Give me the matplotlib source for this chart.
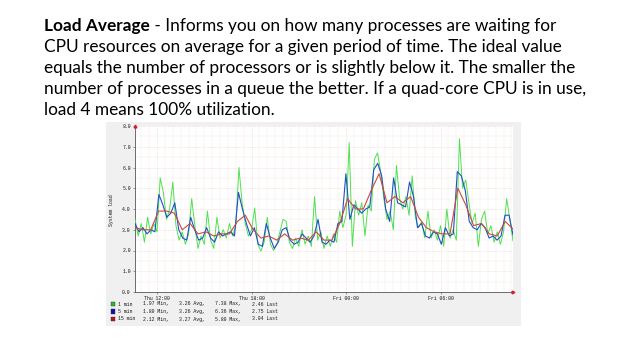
import numpy as np
import matplotlib.pyplot as plt
from matplotlib.patches import Rectangle
from matplotlib.ticker import MultipleLocator

# --- Dados ---------------------------------------------------------------

# janela de 24 h (horas contadas desde Thu 00:00)
t_start, t_end = 10.6, 34.6

load_1min = [3.5, 2.7, 3.3, 2.4, 3.6, 2.8, 3.3, 2.9, 5.5, 4.8,
             3.5, 4.0, 5.3, 3.2, 2.5, 2.9, 2.3, 2.8, 4.5, 3.2,
             2.1, 2.7, 2.3, 3.9, 2.5, 2.1, 3.6, 2.6, 3.0, 2.6,
             3.3, 2.7, 3.2, 6.0, 4.3, 3.3, 2.7, 3.0, 4.05, 2.3,
             1.97, 2.4, 3.6, 2.3, 2.0, 2.3, 2.9, 3.5, 3.4, 2.4,
             2.1, 2.6, 2.2, 3.0, 2.3, 2.7, 2.2, 4.6, 2.5, 2.9,
             2.1, 2.7, 2.2, 2.8, 2.4, 3.9, 3.1, 3.7, 7.2, 2.2,
             4.4, 3.7, 4.3, 2.7, 4.2, 3.9, 6.4, 6.7, 5.8, 4.5,
             3.5, 3.9, 3.0, 6.1, 4.5, 4.0, 4.6, 3.7, 5.6, 3.6,
             3.1, 3.4, 2.6, 3.9, 2.6, 3.0, 2.5, 3.2, 2.2, 4.0,
             2.6, 3.0, 2.5, 7.38, 5.0, 5.4, 4.3, 3.3, 3.8, 2.2,
             3.5, 3.9, 2.8, 3.2, 2.4, 2.9, 2.3, 2.9, 4.5, 3.5,
             2.46]

load_5min = [3.3, 2.9, 3.1, 2.8, 3.0, 2.9, 4.7, 4.2, 3.6, 3.8,
             4.3, 3.0, 2.6, 2.5, 3.6, 3.0, 2.5, 2.6, 3.1, 2.6,
             2.4, 2.9, 2.7, 2.8, 2.9, 2.7, 4.8, 4.0, 3.3, 2.7,
             3.1, 2.3, 2.2, 3.3, 2.6, 2.1, 2.4, 3.0, 3.1, 2.5,
             2.3, 2.4, 2.8, 2.6, 2.4, 2.7, 3.5, 2.4, 2.3, 2.5,
             2.4, 3.3, 3.4, 5.7, 3.5, 4.2, 4.0, 3.8, 4.0, 4.1,
             5.9, 6.2, 5.6, 4.0, 3.4, 5.5, 4.3, 4.2, 4.1, 5.3,
             4.6, 3.1, 3.3, 2.7, 2.6, 2.9, 2.8, 2.3, 3.1, 2.7,
             2.8, 5.8, 5.6, 4.9, 3.4, 3.1, 3.0, 3.3, 3.1, 2.6,
             2.7, 2.5, 2.7, 3.7, 3.7, 2.75]

load_15min = [3.1, 3.0, 3.0, 3.9, 3.9, 3.8, 3.0, 3.3, 2.8, 2.9,
              2.7, 2.8, 2.8, 3.4, 3.7, 3.0, 2.6, 2.7, 2.5, 2.8,
              2.5, 2.6, 2.5, 2.9, 2.5, 2.5, 3.3, 4.5, 4.0, 4.0,
              4.9, 5.7, 4.3, 4.6, 4.3, 4.6, 3.6, 3.1, 2.9, 2.8,
              2.8, 5.0, 4.2, 3.2, 3.3, 2.8, 2.7, 3.4, 3.04]

tick_hours = [12, 18, 24, 30]
tick_labels = ["Thu 12:00", "Thu 18:00", "Fri 00:00", "Fri 06:00"]

legend_names = ["1 min", "5 min", "15 min"]
legend_min = ["1.97", "1.80", "2.12"]
legend_avg = ["3.26", "3.26", "3.27"]
legend_max = ["7.38", "6.36", "5.80"]
legend_last = ["2.46", "2.75", "3.04"]

title_bold = "Load Average"
title_lines = [" - Informs you on how many processes are waiting for",
               "CPU resources on average for a given period of time. The ideal value",
               "equals the number of processors or is slightly below it. The smaller the",
               "number of processes in a queue the better. If a quad-core CPU is in use,",
               "load 4 means 100% utilization."]

# --- Figura --------------------------------------------------------------

W, H = 638, 359
fig = plt.figure(figsize=(W / 100, H / 100), dpi=100)
fig.patch.set_facecolor("white")
renderer = fig.canvas.get_renderer()

def fx(px):
    return px / W

def fy(py):
    return 1 - py / H

# texto do slide: ajusta o tamanho para a largura da 4a linha
title_font = "Lato"
probe = fig.text(0, 0, title_lines[3], fontsize=12, family=title_font)
w = probe.get_window_extent(renderer).width
probe.remove()
fs = 12 * 540 / w

x0 = 44
baselines = [31, 52, 73, 94, 115]
tb = fig.text(fx(x0), fy(baselines[0]), title_bold, fontsize=fs,
              family=title_font, weight="bold", va="baseline", color="black")
wb = tb.get_window_extent(renderer).width
fig.text(fx(x0 + wb), fy(baselines[0]), title_lines[0], fontsize=fs,
         family=title_font, va="baseline", color="black")
for line, b in zip(title_lines[1:], baselines[1:]):
    fig.text(fx(x0), fy(b), line, fontsize=fs, family=title_font,
             va="baseline", color="black")

# painel cinza do gráfico rrd
fig.add_artist(Rectangle((fx(106), fy(326)), fx(415), 204 / H,
                         transform=fig.transFigure, facecolor="#f0f0f0",
                         edgecolor="none", zorder=0))

ax = fig.add_axes([fx(135), fy(292), fx(378), 166 / H])
ax.set_facecolor("white")
ax.set_xlim(t_start, t_end)
ax.set_ylim(0, 8)

mono = "Liberation Mono"
small = 3.5
txt_col = "#1a1a1a"

t1 = np.linspace(t_start, t_end, len(load_1min))
t5 = np.linspace(t_start, t_end, len(load_5min))
t15 = np.linspace(t_start, t_end, len(load_15min))
ax.plot(t1, load_1min, color="#4fe04f", lw=0.7, zorder=3)
ax.plot(t5, load_5min, color="#2050c8", lw=0.8, zorder=4)
ax.plot(t15, load_15min, color="#cc4a3a", lw=0.8, zorder=5)

ax.set_xticks(tick_hours)
ax.set_xticklabels(tick_labels, family=mono, fontsize=small)
ax.set_yticks(range(9))
ax.set_yticklabels([f"{v:.1f}" for v in range(9)], family=mono, fontsize=small)
ax.xaxis.set_minor_locator(MultipleLocator(0.5))
ax.yaxis.set_minor_locator(MultipleLocator(0.5))
ax.tick_params(which="major", length=1.5, width=0.4, pad=1.5, colors="#555555")
ax.tick_params(which="minor", length=0)
for lab in ax.get_xticklabels() + ax.get_yticklabels():
    lab.set_color(txt_col)
ax.grid(which="minor", color="#f3eaea", lw=0.35)
ax.grid(which="major", color="#f4cfcf", lw=0.45, ls=(0, (1, 1)))
ax.set_axisbelow(True)

for s in ["top", "right"]:
    ax.spines[s].set_visible(False)
for s in ["left", "bottom"]:
    ax.spines[s].set_color("#555555")
    ax.spines[s].set_linewidth(0.6)

# setinhas vermelhas nas pontas dos eixos
ax.plot([0], [1], marker="^", ms=2, color="#cc2222", transform=ax.transAxes,
        clip_on=False, zorder=6)
ax.plot([1], [0], marker=">", ms=2, color="#cc2222", transform=ax.transAxes,
        clip_on=False, zorder=6)

fig.text(fx(111), fy(210), "System load", rotation=90, family=mono,
         fontsize=small, ha="center", va="center", color=txt_col)

# legenda no estilo rrdtool
sq_colors = ["#22c022", "#1010b0", "#c01010"]
rows_y = [304, 311.5, 319]
cols_x = [118, 143, 179, 215, 252]
for i, y in enumerate(rows_y):
    fig.add_artist(Rectangle((fx(111), fy(y + 2.2)), fx(4.4), 4.4 / H,
                             transform=fig.transFigure, facecolor=sq_colors[i],
                             edgecolor="#333333", lw=0.3))
    texts = [legend_names[i], legend_min[i] + " Min,", legend_avg[i] + " Avg,",
             legend_max[i] + " Max,", legend_last[i] + " Last"]
    for x, s in zip(cols_x, texts):
        fig.text(fx(x), fy(y), s, family=mono, fontsize=small, va="center",
                 color=txt_col)

fig.savefig("out.png", dpi=100)
